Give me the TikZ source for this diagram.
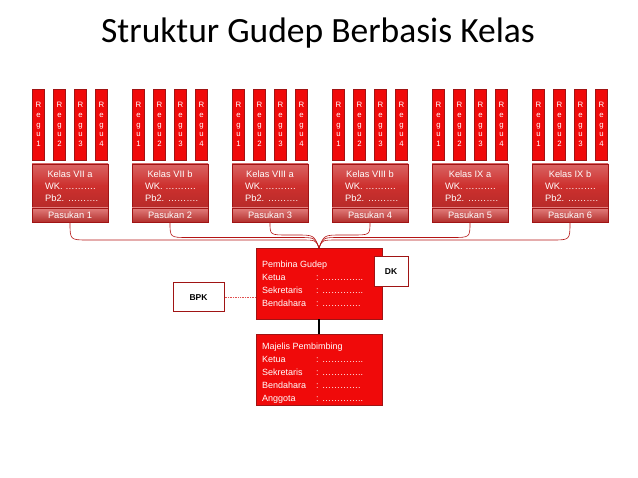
\documentclass[tikz,border=0pt]{standalone}
\usepackage{fontspec}
\setmainfont{Liberation Sans}
\newfontfamily\titlefont{Carlito}
\begin{document}
\begin{tikzpicture}[x=1pt,y=-1pt]
\definecolor{rbright}{RGB}{240,10,10}
\definecolor{rborder}{RGB}{160,20,20}
\definecolor{kelasfill}{RGB}{205,48,46}
\definecolor{pasfill}{RGB}{210,55,52}
\definecolor{linered}{RGB}{180,20,20}
\definecolor{dotred}{RGB}{225,80,80}
\tikzset{
  regubox/.style={draw=rborder, line width=0.5pt, fill=rbright, minimum width=12pt, minimum height=71pt, inner sep=0pt, text=white, font=\fontsize{7.8}{9.8}\selectfont, align=center},
  kelasbox/.style={draw=rborder, line width=0.5pt, top color=kelasfill!75!white, bottom color=kelasfill!90!black, middle color=kelasfill, minimum width=76pt, minimum height=43pt, inner sep=0pt},
  pasbox/.style={draw=rborder, line width=0.5pt, top color=pasfill!65!white, bottom color=pasfill!85!black, minimum width=76pt, minimum height=14pt, inner sep=0pt, text=white, font=\fontsize{9.3}{11}\selectfont},
  ktext/.style={text=white, font=\fontsize{9.3}{11}\selectfont, inner sep=0pt},
  conn/.style={draw=linered, line width=0.6pt},
  bigbox/.style={draw=rborder, line width=0.6pt, fill=rbright, minimum width=126pt, inner sep=0pt},
  btext/.style={text=white, font=\fontsize{9}{11}\selectfont, inner sep=0pt, anchor=base west},
  smallbox/.style={draw=rborder, line width=1pt, fill=white, inner sep=0pt, font=\bfseries\fontsize{8.5}{10}\selectfont},
}
\useasboundingbox (0,0) rectangle (638,478);
\node[font=\titlefont\fontsize{35.5}{40}\selectfont, anchor=base] (title) at (318,43) {Struktur Gudep Berbasis Kelas};
% groups
\foreach \g/\kname in {0/Kelas VII a,1/Kelas VII b,2/Kelas VIII a,3/Kelas VIII b,4/Kelas IX a,5/Kelas IX b}{
  \pgfmathsetmacro{\gx}{32+100*\g}
  \foreach \r in {1,2,3,4}{
    \node[regubox] (regu\g\r) at ({\gx+6.5+21*(\r-1)},124.5) {R\\e\\g\\u\\\r};
  }
  \node[kelasbox] (kelas\g) at ({\gx+38},185.5) {};
  \node[ktext, anchor=base] (kn\g) at ({\gx+38},178) {\kname};
  \node[ktext, anchor=base west] (kw\g) at ({\gx+13},190) {WK. ……….};
  \node[ktext, anchor=base west] (kp\g) at ({\gx+13},202) {Pb2. ……….};
  \pgfmathtruncatemacro{\pn}{\g+1}
  \node[pasbox] (pas\g) at ({\gx+38},215) {Pasukan \pn};
}
% main boxes
\node[bigbox, minimum height=71pt] (pembina) at (319,283.5) {};
\node[bigbox, minimum height=71pt] (majelis) at (319,369.5) {};
\node[smallbox, minimum width=34pt, minimum height=30pt] (dk) at (391,272) {DK};
\node[smallbox, minimum width=51pt, minimum height=29pt] (bpk) at (198.5,297.5) {BPK};
% pembina text
\node[btext] (p0) at (262,268) {Pembina Gudep};
\node[btext] (p1) at (262,281) {Ketua};
\node[btext] (p2) at (262,294) {Sekretaris};
\node[btext] (p3) at (262,307) {Bendahara};
\node[btext] (p1c) at (316,281) {: …………..};
\node[btext] (p2c) at (316,294) {: …………..};
\node[btext] (p3c) at (316,307) {: ………….};
% majelis text
\node[btext] (m0) at (262,350) {Majelis Pembimbing};
\node[btext] (m1) at (262,363) {Ketua};
\node[btext] (m2) at (262,376) {Sekretaris};
\node[btext] (m3) at (262,389) {Bendahara};
\node[btext] (m4) at (262,402) {Anggota};
\node[btext] (m1c) at (316,363) {: …………..};
\node[btext] (m2c) at (316,376) {: …………..};
\node[btext] (m3c) at (316,389) {: ………….};
\node[btext] (m4c) at (316,402) {: …………..};
% connectors
\draw[line width=1.6pt, black] (pembina.south) -- (majelis.north);
\draw[draw=dotred, line width=0.7pt, densely dotted] (bpk.east) -- (bpk.east -| pembina.west);
\coordinate (hub) at (319,248);
\foreach \g/\yy in {0/240,1/237.5,2/235}{
  \pgfmathsetmacro{\sx}{70+100*\g}
  \draw[conn] (pas\g.south) .. controls (\sx,\yy) .. ({\sx+18},\yy) -- ({300-2*\g},\yy) .. controls ({316-\g},\yy) .. (hub);
}
\foreach \g/\yy in {5/240,4/237.5,3/235}{
  \pgfmathsetmacro{\sx}{70+100*\g}
  \pgfmathtruncatemacro{\k}{5-\g}
  \draw[conn] (pas\g.south) .. controls (\sx,\yy) .. ({\sx-18},\yy) -- ({338+2*\k},\yy) .. controls ({322+\k},\yy) .. (hub);
}
\end{tikzpicture}
\end{document}
